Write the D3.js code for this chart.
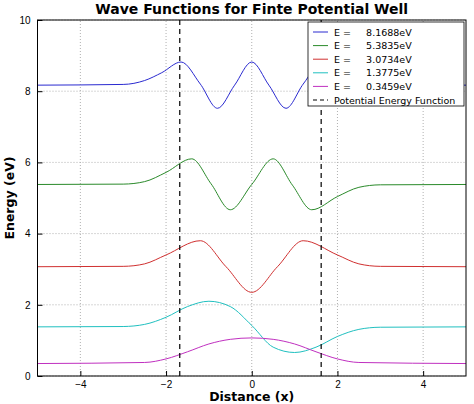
<!DOCTYPE html>
<html><head><meta charset="utf-8">
<script src="https://cdn.jsdelivr.net/npm/d3@7"></script>
<style>
body{margin:0;background:#fff;font-family:"DejaVu Sans",sans-serif;}
.grid line{stroke:#b0b0b0;stroke-dasharray:1,2;}
.axis text{font-size:10px;fill:#000;}
</style></head><body>
<div id="chart"></div>
<script>
// energies and legend labels
var energies = [8.1688, 5.3835, 3.0734, 1.3775, 0.3459];
var labels = ["E =     8.1688eV", "E =     5.3835eV", "E =     3.0734eV", "E =     1.3775eV", "E =     0.3459eV"];
var colors = ["#2a2ad0", "#2a8a2a", "#d03030", "#20c0c0", "#c030c0"];

// curves
var xBlue = [-5, -3, -2.5, -2.1, -1.65, -1.2, -0.8, -0.4, 0, 0.4, 0.8, 1.2, 1.65, 2.1, 2.5, 3, 5];
var yBlue = [8.17, 8.19, 8.3, 8.52, 8.82, 8.2, 7.52, 8.17, 8.82, 8.17, 7.52, 8.2, 8.82, 8.52, 8.3, 8.19, 8.17];
var xGreen = [-5, -3, -2.5, -2, -1.4, -0.95, -0.5, 0, 0.5, 0.95, 1.4, 2, 2.5, 3, 5];
var yGreen = [5.38, 5.39, 5.46, 5.72, 6.1, 5.4, 4.67, 5.38, 6.1, 5.36, 4.67, 5.04, 5.3, 5.37, 5.38];
var xRed = [-5, -3, -2.5, -2, -1.2, -0.6, 0, 0.6, 1.2, 2, 2.5, 3, 5];
var yRed = [3.07, 3.08, 3.15, 3.4, 3.8, 3.07, 2.35, 3.07, 3.8, 3.4, 3.15, 3.08, 3.07];
var xCyan = [-5, -3, -2.5, -2, -1.5, -1, -0.5, 0, 0.5, 1, 1.5, 2, 2.5, 3, 5];
var yCyan = [1.38, 1.39, 1.45, 1.65, 1.95, 2.1, 1.95, 1.42, 0.81, 0.66, 0.81, 1.11, 1.31, 1.37, 1.38];
var xMag = [-5, -2.5, -2, -1.5, -1, -0.5, 0, 0.5, 1, 1.5, 2, 2.5, 5];
var yMag = [0.35, 0.38, 0.48, 0.68, 0.9, 1.03, 1.07, 1.03, 0.9, 0.68, 0.48, 0.38, 0.35];
var wallX = [-1.68, 1.62];

var xTicks = [-4, -2, 0, 2, 4];
var yTicks = [0, 2, 4, 6, 8, 10];

var series = [[xBlue, yBlue], [xGreen, yGreen], [xRed, yRed], [xCyan, yCyan], [xMag, yMag]];

var W = 474, H = 404;
var margin = {top: 20, right: 8, bottom: 28, left: 37.5};
var svg = d3.select("#chart").append("svg").attr("width", W).attr("height", H);

var x = d3.scaleLinear().domain([-5, 5]).range([margin.left, W - margin.right]);
var y = d3.scaleLinear().domain([0, 10]).range([H - margin.bottom, margin.top]);

// grid
var grid = svg.append("g").attr("class", "grid");
grid.selectAll(".gx").data(xTicks).enter().append("line")
    .attr("x1", d => x(d)).attr("x2", d => x(d)).attr("y1", y(0)).attr("y2", y(10));
grid.selectAll(".gy").data(yTicks).enter().append("line")
    .attr("x1", x(-5)).attr("x2", x(5)).attr("y1", d => y(d)).attr("y2", d => y(d));

var line = d3.line().x(d => x(d[0])).y(d => y(d[1])).curve(d3.curveMonotoneX);

series.forEach(function (s, i) {
    var pts = s[0].map((v, j) => [v, s[1][j]]);
    svg.append("path").attr("d", line(pts)).attr("fill", "none")
        .attr("stroke", colors[i]).attr("stroke-width", 1);
});

// potential walls
svg.selectAll(".wall").data(wallX).enter().append("line")
    .attr("x1", d => x(d)).attr("x2", d => x(d)).attr("y1", y(0)).attr("y2", y(10))
    .attr("stroke", "#000").attr("stroke-width", 1.2).attr("stroke-dasharray", "5,4");

// axes
svg.append("g").attr("class", "axis").attr("transform", "translate(0," + y(0) + ")")
    .call(d3.axisBottom(x).tickValues(xTicks).tickSize(-5).tickPadding(5).tickFormat(d => d < 0 ? "\u2212" + (-d) : d))
    .call(g => g.select(".domain").remove());
svg.append("g").attr("class", "axis").attr("transform", "translate(" + x(-5) + ",0)")
    .call(d3.axisLeft(y).tickValues(yTicks).tickSize(-5).tickPadding(7))
    .call(g => g.select(".domain").remove());
svg.append("rect").attr("x", x(-5)).attr("y", y(10)).attr("width", x(5) - x(-5)).attr("height", y(0) - y(10))
    .attr("fill", "none").attr("stroke", "#000");

svg.append("text").attr("x", (x(-5) + x(5)) / 2).attr("y", 14).attr("text-anchor", "middle")
    .attr("font-weight", "bold").attr("font-size", 14).text("Wave Functions for Finte Potential Well");
svg.append("text").attr("x", (x(-5) + x(5)) / 2).attr("y", 401).attr("text-anchor", "middle")
    .attr("font-weight", "bold").attr("font-size", 12.5).text("Distance (x)");
svg.append("text").attr("transform", "translate(14," + (y(5)) + ") rotate(-90)").attr("text-anchor", "middle")
    .attr("font-weight", "bold").attr("font-size", 12.5).text("Energy (eV)");

// legend
var lg = svg.append("g").attr("transform", "translate(308,22)");
lg.append("rect").attr("width", 156).attr("height", 84).attr("fill", "#fff").attr("stroke", "#000").attr("stroke-width", 0.8);
var items = labels.concat(["Potential Energy Function"]);
items.forEach(function (t, i) {
    var yy = 10 + i * 13.6;
    lg.append("line").attr("x1", 5).attr("x2", 20).attr("y1", yy).attr("y2", yy)
        .attr("stroke", i < 5 ? colors[i] : "#000").attr("stroke-width", i < 5 ? 1 : 1.2)
        .attr("stroke-dasharray", i < 5 ? null : "4,3");
    lg.append("text").attr("x", 26).attr("y", yy + 3.5).attr("font-size", 9.5).attr("xml:space", "preserve")
        .style("white-space", "pre").text(t);
});
</script>
</body></html>
